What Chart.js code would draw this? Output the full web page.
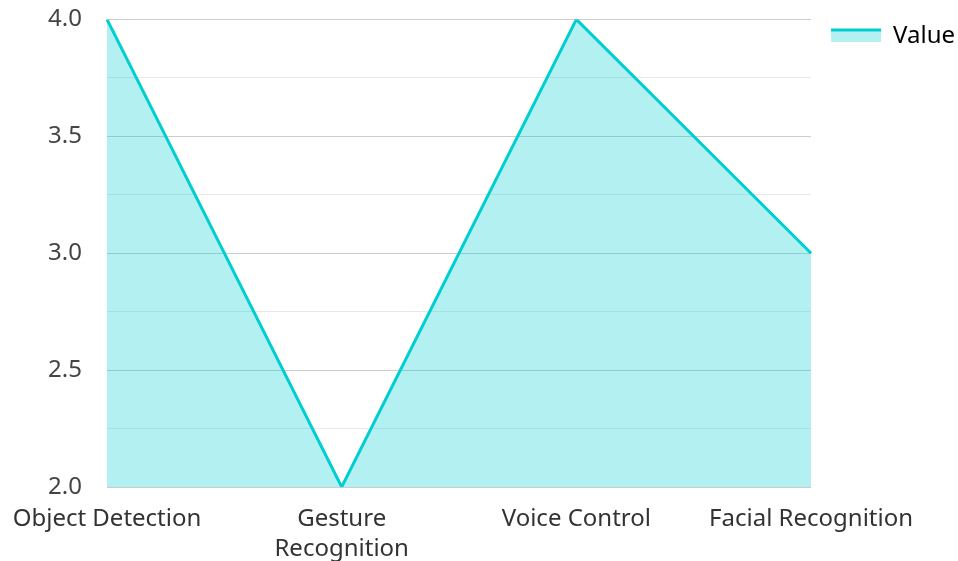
<!DOCTYPE html>
<html>
<head>
<meta charset="utf-8">
<script src="https://cdn.jsdelivr.net/npm/chart.js@4"></script>
<style>
  html, body { margin: 0; padding: 0; background: #fff; }
  #wrap { width: 958px; height: 561px; }
</style>
</head>
<body>
<div id="wrap"><canvas id="chart"></canvas></div>
<script>
// chart data
const categories = ['Object Detection', ['Gesture', 'Recognition'], 'Voice Control', 'Facial Recognition'];
const seriesName = 'Value';
const values = [4, 2, 4, 3];
const yTicks = [2.0, 2.5, 3.0, 3.5, 4.0];

const lineColor = '#00CED1';
const fillColor = 'rgba(0, 206, 209, 0.3)';

Chart.defaults.font.family = '"Noto Sans", "Open Sans", sans-serif';
Chart.defaults.font.size = 24;

const ctx = document.getElementById('chart').getContext('2d');
new Chart(ctx, {
  type: 'line',
  data: {
    labels: categories,
    datasets: [{
      label: seriesName,
      data: values,
      borderColor: lineColor,
      backgroundColor: fillColor,
      borderWidth: 3,
      pointRadius: 0,
      tension: 0,
      fill: 'start'
    }]
  },
  options: {
    responsive: true,
    maintainAspectRatio: false,
    animation: false,
    layout: { padding: { top: 4, right: -7 } },
    plugins: {
      legend: {
        position: 'right',
        align: 'start',
        labels: {
          boxWidth: 50,
          boxHeight: 12,
          padding: 20,
          color: '#333',
          font: { size: 24 },
          generateLabels: chart => chart.data.datasets.map((ds, i) => ({
            text: ds.label,
            fillStyle: ds.backgroundColor,
            strokeStyle: ds.borderColor,
            lineWidth: 3,
            lineDash: [50, 1000],
            datasetIndex: i
          }))
        }
      },
      tooltip: { enabled: false }
    },
    scales: {
      x: {
        offset: false,
        grid: { display: false },
        border: { display: false },
        afterFit: scale => { scale.height = 74; },
        ticks: {
          color: '#333',
          maxRotation: 0,
          autoSkip: false,
          padding: 9,
          font: { size: 24, lineHeight: 1.25 }
        }
      },
      y: {
        min: 2,
        max: 4,
        border: { display: false },
        afterFit: scale => { scale.width = 107; },
        grid: {
          drawTicks: true,
          tickLength: 20,
          tickColor: 'rgba(0,0,0,0)',
          color: c => (Math.round(c.tick.value * 100) % 50 === 0) ? '#cccccc' : '#e8e8e8',
          lineWidth: 1
        },
        ticks: {
          stepSize: 0.25,
          autoSkip: false,
          color: '#444',
          padding: 5,
          callback: v => yTicks.includes(v) ? v.toFixed(1) : ''
        }
      }
    }
  }
});
</script>
</body>
</html>
